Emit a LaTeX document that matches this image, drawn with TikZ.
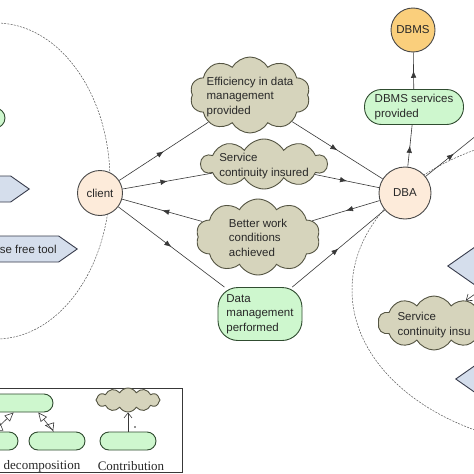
\documentclass[tikz,border=0pt]{standalone}
\usepackage{fontspec}
\setmainfont{Liberation Sans}
\newfontfamily\legendfont{Liberation Serif}
\usepackage{xcolor}
\usepackage{tikz}
\usetikzlibrary{shapes.geometric}
\usetikzlibrary{shapes.symbols}
\usetikzlibrary{arrows.meta}
\usetikzlibrary{decorations.markings}

\definecolor{softfill}{RGB}{214,212,188}
\definecolor{softline}{RGB}{84,84,66}
\definecolor{goalfill}{RGB}{206,247,206}
\definecolor{goalline}{RGB}{48,76,48}
\definecolor{actorfill}{RGB}{253,235,218}
\definecolor{actorline}{RGB}{72,72,72}
\definecolor{dbmsfill}{RGB}{250,207,124}
\definecolor{taskfill}{RGB}{213,222,236}
\definecolor{taskline}{RGB}{56,60,76}
\definecolor{linkgray}{RGB}{56,56,56}
\definecolor{textgray}{RGB}{40,40,40}

\newcommand{\cloudtext}[1]{\smash{\makebox[0pt]{\raisebox{-5pt}{\begin{tabular}{@{}l@{}}#1\end{tabular}}}}}

\begin{document}
\begin{tikzpicture}[x=1pt, y=-1pt,
        every node/.style={font=\fontsize{11.5}{14.5}\selectfont, text=textgray},
        actor/.style={circle, draw=actorline, fill=actorfill, line width=0.9pt, inner sep=0pt},
        goal/.style={rectangle, draw=goalline, fill=goalfill, line width=0.9pt, align=left},
        soft/.style={cloud, cloud puffs=10, cloud puff arc=120, cloud ignores aspect,
            draw=softline, fill=softfill, line width=0.9pt, inner sep=0pt},
        task/.style={signal, signal to=east and west, signal pointer angle=70,
            draw=taskline, fill=taskfill, line width=0.9pt, inner xsep=2pt},
        boundary/.style={draw=gray!70!black, line width=0.5pt, dash pattern=on 2pt off 1.2pt},
        dep/.style={color=linkgray, line width=0.6pt, postaction={decorate},
            decoration={markings, mark=at position 0.5 with {\arrow{Latex[length=7pt,width=5.5pt]}}}},
        contrib/.style={draw=linkgray, line width=0.6pt, -{Straight Barb[length=5pt,width=8pt]}},
        decomp/.style={draw=linkgray, line width=0.6pt, -{Triangle[open,length=9pt,width=8pt]},
            postaction={decorate},
            decoration={markings, mark=at position 0.3 with {\draw[linkgray, line width=0.6pt] (-3pt,-3pt) -- (3pt,3pt);}}}]
        \useasboundingbox (0,0) rectangle (474,474);
        \fill[white] (0,0) rectangle (474,474);

        \draw[boundary] (-4,181) ellipse [x radius=114pt, y radius=158pt];
        \draw[boundary] (581,290) ellipse [x radius=229pt, y radius=158pt];

        \node[goal, minimum width=60pt, minimum height=20pt, rounded corners=10pt] (goalleft) at (-25,118) {};
        \node[task, anchor=east, minimum width=60pt, minimum height=26pt] (tasklb) at (30,189) {};
        \node[task, anchor=east, minimum height=26pt] (usetool) at (78,249) {se free tool};

        \node[actor, minimum size=45pt] (client) at (100,193) {client};
        \node[actor, minimum size=52pt] (dba) at (405,193) {DBA};
        \node[actor, fill=dbmsfill, minimum size=44pt] (dbms) at (413,30) {DBMS};

        \node[goal, minimum width=99pt, minimum height=35pt, rounded corners=17pt] (dbmsserv) at (414,107) {DBMS services\\provided};
        \node[soft, minimum width=120pt, minimum height=76pt] (effic) at (250,95) {\cloudtext{Efficiency in data\\management\\provided}};
        \node[soft, minimum width=126pt, minimum height=50pt] (servc) at (264,164) {\cloudtext{Service\\continuity insured}};
        \node[soft, minimum width=124pt, minimum height=76pt] (better) at (258,237) {\cloudtext{Better work\\conditions\\achieved}};
        \node[goal, minimum width=84pt, minimum height=53pt, rounded corners=20pt] (datam) at (260,314) {Data\\management\\performed};

        \node[task, anchor=west, minimum width=90pt, minimum height=44pt] (taskra) at (447,266) {};
        \node[soft, minimum width=112pt, minimum height=54pt] (servr) at (434,323) {\cloudtext{Service\\continuity insu}};
        \node[task, anchor=west, minimum width=90pt, minimum height=36pt] (taskrb) at (455,379) {};

        \coordinate (outright) at (482,131);
        \coordinate (outservr) at (492,282);

        \draw[dep] (client) -- (effic);
        \draw[dep] (effic) -- (dba);
        \draw[dep] (client) -- (servc);
        \draw[dep] (servc) -- (dba);
        \draw[dep] (better) -- (client);
        \draw[dep] (dba) -- (better);
        \draw[dep] (client) -- (datam);
        \draw[dep] (datam) -- (dba);
        \draw[dep] (dba) -- (dbmsserv);
        \draw[dep] (dbmsserv) -- (dbms);
        \draw[dep] (dba) -- (outright);
        \draw[contrib] (outservr) -- (servr);

        \draw[draw=linkgray, line width=0.8pt, fill=white] (-5,388) rectangle (182,472);
        \node[goal, minimum width=70pt, minimum height=18pt, rounded corners=9pt] (legtop) at (18,403) {};
        \node[goal, minimum width=56pt, minimum height=18pt, rounded corners=9pt] (lega) at (-10,441) {};
        \node[goal, minimum width=56pt, minimum height=18pt, rounded corners=9pt] (legb) at (57,441) {};
        \node[soft, cloud puffs=12, minimum width=64pt, minimum height=24pt] (legsoft) at (128,400) {};
        \node[goal, minimum width=56pt, minimum height=18pt, rounded corners=9pt] (legc) at (128,441) {};
        \draw[decomp] (lega.70) -- (legtop.-115);
        \draw[decomp] (legb.110) -- (legtop.-25);
        \draw[contrib] (legc.north) -- (legsoft.south);
        \node[circle, fill=textgray, inner sep=0.6pt] (legdot) at (135,427) {};
        \node[font=\legendfont\fontsize{13}{15}\selectfont] (decomplbl) at (42,466) {decomposition};
        \node[font=\legendfont\fontsize{13}{15}\selectfont] (contriblbl) at (131,466) {Contribution};
        \end{tikzpicture}
\end{document}
